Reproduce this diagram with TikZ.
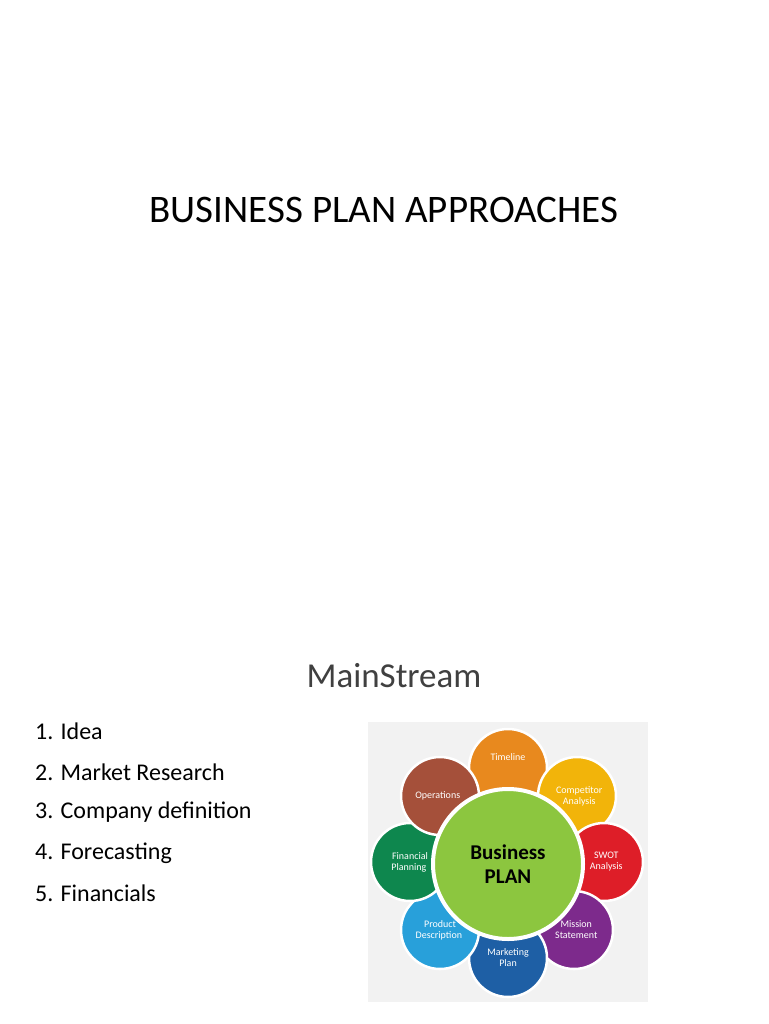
\documentclass[tikz,border=0pt]{standalone}
\usepackage{fontspec}
\setmainfont{Carlito}
\begin{document}
\begin{tikzpicture}[x=1pt,y=-1pt,
 petal/.style={circle,minimum size=78pt,draw=white,line width=2.5pt,text=white,align=center,font=\fontsize{10}{11}\selectfont,inner sep=0pt},
 item/.style={anchor=west,font=\fontsize{24}{28}\selectfont,inner sep=0pt}]
\useasboundingbox (0,0) rectangle (768,1024);
\fill[white] (0,0) rectangle (768,1024);
\node (title) at (384,210) {\fontsize{39}{44}\selectfont BUSINESS PLAN APPROACHES};
\node (ms) at (394,676) [text=black!75] {\fontsize{35}{40}\selectfont MainStream};
\node[item] (i1) at (35,731) {1. Idea};
\node[item] (i2) at (35,772) {2. Market Research};
\node[item] (i3) at (35,812) {3. Company definition};
\node[item] (i4) at (35,853) {4. Forecasting};
\node[item] (i5) at (35,893) {5. Financials};
\fill[black!5] (368,722) rectangle (648,1002);
\node[petal,fill={rgb,255:red,232;green,137;blue,30}] (p1) at (508,768) {Timeline\\[10pt]};
\node[petal,fill={rgb,255:red,242;green,180;blue,10}] (p2) at (577,796) {\ \ Competitor\\\ \ Analysis};
\node[petal,fill={rgb,255:red,222;green,30;blue,40}] (p3) at (604,862) {\ \ SWOT\\\ \ Analysis};
\node[petal,fill={rgb,255:red,125;green,42;blue,140}] (p4) at (574,930) {\ \ Mission\\\ \ Statement};
\node[petal,fill={rgb,255:red,30;green,95;blue,165}] (p5) at (508,958) {Marketing\\Plan};
\node[petal,fill={rgb,255:red,40;green,160;blue,218}] (p6) at (440,930) {Product\\Description\ \ };
\node[petal,fill={rgb,255:red,14;green,135;blue,78}] (p7) at (410,862) {Financial\\Planning\ \ };
\node[petal,fill={rgb,255:red,165;green,80;blue,58}] (p8) at (440,796) {Operations\ \ };
\node[circle,minimum size=150pt,fill={rgb,255:red,140;green,198;blue,63},draw=white,line width=4pt,inner sep=0pt,font=\bfseries\fontsize{21}{24}\selectfont,align=center] (c) at (508,864) {Business\\PLAN};
\end{tikzpicture}
\end{document}
